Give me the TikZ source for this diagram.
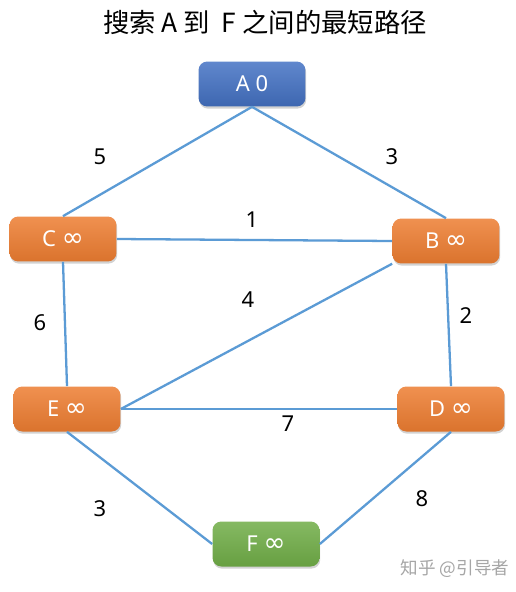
\documentclass[tikz,border=0pt]{standalone}
\usepackage{fontspec}
\setmainfont{Noto Sans}
\newfontfamily\cjk{Noto Sans CJK SC}
\newfontfamily\symfont{DejaVu Sans}
\newcommand{\infsym}{{\symfont\fontsize{15}{14}\selectfont ∞}}
\usetikzlibrary{shadows}
\definecolor{edgeblue}{RGB}{91,155,213}
\definecolor{nodeblue}{RGB}{68,114,196}
\definecolor{nodeorange}{RGB}{237,125,49}
\definecolor{nodegreen}{RGB}{112,173,71}
\tikzset{
  vertex/.style={rounded corners=5pt,minimum width=2.14cm,minimum height=0.9cm,
    text=white,font=\fontsize{12.5}{14}\selectfont,inner sep=0pt,
    drop shadow={shadow xshift=0.4pt,shadow yshift=-1.2pt,opacity=0.35}},
  bluebox/.style={vertex,top color=nodeblue!85!white,bottom color=nodeblue!90!black},
  orangebox/.style={vertex,top color=nodeorange!85!white,bottom color=nodeorange!92!black},
  greenbox/.style={vertex,top color=nodegreen!85!white,bottom color=nodegreen!92!black},
  edge/.style={edgeblue,line width=1.3pt},
  weight/.style={font=\fontsize{12.5}{14}\selectfont}
}
\begin{document}
\begin{tikzpicture}[x=0.02cm,y=-0.02cm]
\useasboundingbox[fill=white] (0,0) rectangle (515,592);
\node[font=\cjk\fontsize{15}{17}\selectfont] (title) at (265,22) {搜索 A 到 \ F 之间的最短路径};
% vertices
\node[bluebox] (a) at (252,84) {A 0};
\node[orangebox] (c) at (63,239) {C \infsym};
\node[orangebox] (b) at (446,241) {B \infsym};
\node[orangebox] (e) at (67,409) {E \infsym};
\node[orangebox] (d) at (451,409) {D \infsym};
\node[greenbox] (f) at (266,544) {F \infsym};
% edges
\draw[edge] (a.south) -- (c.north);
\draw[edge] (a.south) -- (b.north);
\draw[edge] (c.east) -- (b.west);
\draw[edge] (b.south west) ++(0,-0.1) coordinate (bw) -- (e.east);
\draw[edge] (c.south) -- (e.north);
\draw[edge] (b.south) -- (d.north);
\draw[edge] (e.east) -- (d.west);
\draw[edge] (e.south) -- (f.west);
\draw[edge] (f.east) -- (d.south);
% weights
\node[weight] (w1) at (100,157) {5};
\node[weight] (w2) at (392,157) {3};
\node[weight] (w3) at (252,220) {1};
\node[weight] (w4) at (248,300) {4};
\node[weight] (w5) at (40,323) {6};
\node[weight] (w6) at (466,316) {2};
\node[weight] (w7) at (288,424) {7};
\node[weight] (w8) at (100,509) {3};
\node[weight] (w9) at (422,499) {8};
\node[text=black!35,font=\cjk\fontsize{10}{12}\selectfont] (mark) at (455,569) {知乎 @引导者};
\end{tikzpicture}
\end{document}
